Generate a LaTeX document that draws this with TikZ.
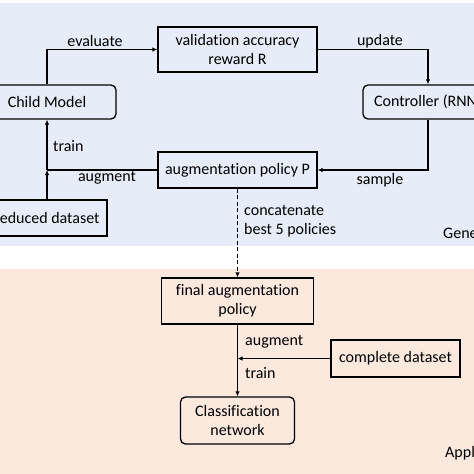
\documentclass[tikz,border=0pt]{standalone}
\usepackage{fontspec}
\setmainfont{Carlito}[Ligatures={NoCommon,NoContextual,NoRare}, Contextuals=NoAlternate]
\usetikzlibrary{arrows.meta}

\definecolor{genblue}{RGB}{231,236,249}
\definecolor{apppeach}{RGB}{251,233,222}

\tikzset{
  box/.style={draw, line width=1.3pt, align=center, inner sep=0pt},
  roundbox/.style={box, rounded corners=5pt},
  link/.style={line width=1.3pt},
  flow/.style={link, -{Latex[length=5pt,width=4.5pt]}},
  lbl/.style={inner sep=0pt, align=left},
}

\begin{document}
\begin{tikzpicture}[x=1pt, y=-1pt, font=\fontsize{16}{19}\selectfont]
        \useasboundingbox (0,0) rectangle (474,474);

        % Background regions
        \fill[genblue] (0,3) rectangle (474,246);
        \fill[apppeach] (0,269) rectangle (474,474);

        % Generation stage
        \node[roundbox, minimum width=138pt, minimum height=34pt] (child) at (47,102) {Child Model};
        \node[box, minimum width=159pt, minimum height=45pt] (reward) at (237.5,49.5) {validation accuracy\\reward R};
        \node[roundbox, minimum width=130pt, minimum height=34pt] (ctrl) at (428,102) {Controller (RNN)};
        \node[box, minimum width=159pt, minimum height=36pt] (policy) at (237.5,170) {augmentation policy P};
        \node[box, minimum width=120pt, minimum height=36pt] (reduced) at (47,218) {reduced dataset};
        \coordinate (mix) at (47,170);

        % Application stage
        \node[box, minimum width=152pt, minimum height=46pt] (final) at (237.5,301) {final augmentation\\policy};
        \node[roundbox, minimum width=114pt, minimum height=47pt] (classif) at (237.5,420.5) {Classification\\network};
        \node[box, minimum width=129pt, minimum height=37pt] (complete) at (395.5,358.5) {complete dataset};
        \coordinate (mix2) at (237.5,358.5);

        % Search loop
        \draw[flow] (child.north) |- (reward.west);
        \draw[flow] (reward.east) -| (ctrl.north);
        \draw[flow] (ctrl.south) |- (policy.east);
        \draw[link] (policy.west) -- (mix);
        \draw[flow] (reduced.north) -- (mix);
        \draw[flow] (mix) -- (child.south);

        % Policy transfer
        \draw[flow, dash pattern=on 4pt off 2.5pt] (policy.south) -- (final.north);
        \draw[flow] (final.south) -- (classif.north);
        \draw[flow] (complete.west) -- (mix2);

        % Labels on the connectors
        \node[lbl] (evaluate) at (95,41) {evaluate};
        \node[lbl] (update) at (380,41) {update};
        \node[lbl] (sample) at (380,180) {sample};
        \node[lbl] (augment) at (107,178) {augment};
        \node[lbl, anchor=west] (train) at (53,146) {train};
        \node[lbl, anchor=west] (concat) at (244,221.5) {concatenate\\best 5 policies};
        \node[lbl, anchor=west] (augment2) at (245,342) {augment};
        \node[lbl, anchor=west] (train2) at (245,373) {train};

        % Stage names
        \node[lbl, anchor=west] (gen) at (443,233) {Generation};
        \node[lbl, anchor=west] (app) at (445,453) {Application};
    \end{tikzpicture}
\end{document}
